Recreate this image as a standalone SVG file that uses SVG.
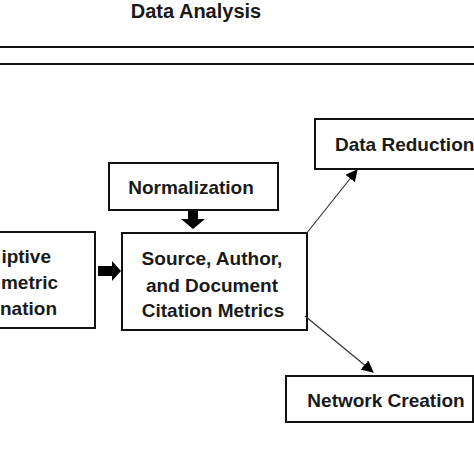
<svg xmlns="http://www.w3.org/2000/svg" width="474" height="474" viewBox="0 0 474 474">
<style>
.box{fill:#fff;stroke:#111;stroke-width:2}
.t{font-family:"Liberation Sans",Arial,sans-serif;font-weight:bold;font-size:19px;fill:#1a1a1a}
.c{text-anchor:middle}
.ln{stroke:#333;stroke-width:1.2;fill:none}
</style>
<defs>
<marker id="ah" markerWidth="12" markerHeight="12" refX="11" refY="6" orient="auto" markerUnits="userSpaceOnUse">
<path d="M0,0 L12,6 L0,12 Z" fill="#000"/>
</marker>
</defs>
<rect width="474" height="474" fill="#fff"/>
<text class="t c" x="196" y="18" style="font-size:20px">Data Analysis</text>
<line x1="0" y1="47" x2="474" y2="47" stroke="#111" stroke-width="2"/>
<line x1="0" y1="64" x2="474" y2="64" stroke="#111" stroke-width="2"/>
<g id="left">
<rect class="box" x="-20" y="232" width="115" height="96"/>
<text class="t" text-anchor="end" x="51" y="263">iptive</text>
<text class="t" text-anchor="end" x="58" y="289">metric</text>
<text class="t" text-anchor="end" x="57" y="315">nation</text>
</g>
<g id="normalization">
<rect class="box" x="109" y="163" width="169" height="47"/>
<text class="t c" x="191" y="194">Normalization</text>
</g>
<g id="metrics">
<rect class="box" x="122" y="233" width="185" height="97"/>
<text class="t c" x="212" y="265">Source, Author,</text>
<text class="t c" x="212" y="292">and Document</text>
<text class="t c" x="213" y="317">Citation Metrics</text>
</g>
<g id="reduction">
<rect class="box" x="315" y="119" width="170" height="50"/>
<text class="t" x="335" y="151">Data Reduction</text>
</g>
<g id="network">
<rect class="box" x="286" y="376" width="187" height="46"/>
<text class="t c" x="386" y="407">Network Creation</text>
</g>
<g id="connectors">
<path d="M98,266 H112 V261 L121,271 L112,281 V276 H98 Z" fill="#000"/>
<path d="M188,211 H198 V219 H205 L193,229 L181,219 H188 Z" fill="#000"/>
<line class="ln" x1="306" y1="234" x2="357" y2="170" marker-end="url(#ah)"/>
<line class="ln" x1="305" y1="316" x2="373" y2="372" marker-end="url(#ah)"/>
</g>
</svg>
